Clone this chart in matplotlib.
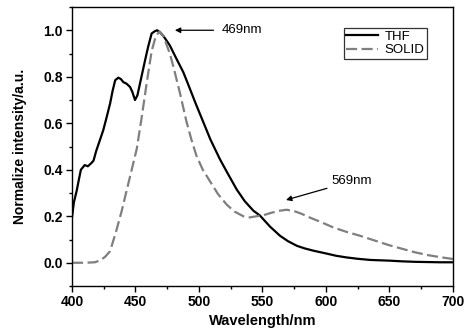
import matplotlib
matplotlib.use("Agg")
import matplotlib.pyplot as plt
import numpy as np

plt.rcParams['font.family'] = ['Liberation Sans', 'DejaVu Sans']

# Emission spectrum in THF solution
thf_wl = [400, 401.5, 403.7, 405.5, 407, 410, 412.5, 415.5, 417, 419, 421.5, 424.6, 427, 430, 432,
          434, 436.5, 438.5, 440.4, 443, 445.7, 447.5, 449.6, 451.5, 453.5, 455.5, 457.5, 460,
          462.7, 465, 467, 469.5, 472, 474.5, 477, 482, 487.6, 492, 497, 503, 509, 516.5, 522,
          529.7, 536, 542.8, 548, 556, 563.8, 570, 577, 583, 590, 600, 608, 616, 625, 635,
          650, 660, 670, 680, 690, 700]
thf_int = [0.195, 0.26, 0.31, 0.36, 0.40, 0.42, 0.415, 0.43, 0.44, 0.48, 0.52, 0.57, 0.62, 0.685, 0.74,
           0.785, 0.796, 0.79, 0.777, 0.77, 0.756, 0.735, 0.70, 0.72, 0.77, 0.82, 0.87, 0.93,
           0.986, 0.995, 1.0, 0.99, 0.975, 0.955, 0.935, 0.88, 0.82, 0.76, 0.69, 0.61, 0.53, 0.445, 0.39,
           0.315, 0.265, 0.224, 0.203, 0.155, 0.116, 0.093, 0.073, 0.062, 0.052, 0.04, 0.03, 0.023, 0.017, 0.012,
           0.009, 0.006, 0.004, 0.003, 0.002, 0.002]

# Emission spectrum of the solid film
solid_wl = [400, 410, 418, 422, 426, 430, 435, 439, 443, 447, 451, 455, 459, 462.7, 466, 469, 472,
            477, 480, 485, 490, 494, 498, 503, 508.7, 515, 521.8, 528, 534.9, 540, 545.4, 551, 557,
            563.8, 569, 575, 581, 587, 596, 605.7, 616, 626.8, 638.6, 650, 660, 670, 680, 690, 700]
solid_int = [0.0, 0.0, 0.002, 0.01, 0.025, 0.05, 0.14, 0.22, 0.31, 0.40, 0.49, 0.63, 0.78, 0.91, 0.975,
             0.995, 0.975, 0.90, 0.84, 0.73, 0.61, 0.53, 0.46, 0.40, 0.35, 0.295, 0.25, 0.22, 0.20, 0.195,
             0.20, 0.205, 0.215, 0.224, 0.228, 0.222, 0.21, 0.195, 0.175, 0.152, 0.133, 0.116, 0.095, 0.075,
             0.06, 0.045, 0.033, 0.024, 0.016]

fig = plt.figure(figsize=(4.74, 3.34), dpi=100)
ax = fig.add_axes([72/474, 1 - 286/334, (453 - 72)/474, (286 - 7)/334])

ax.plot(thf_wl, thf_int, color='black', lw=1.6, label='THF')
ax.plot(solid_wl, solid_int, color='#7f7f7f', lw=1.6, ls=(0, (5, 2)), label='SOLID')

ax.set_xlim(400, 700)
ax.set_ylim(-0.1, 1.1)
ax.set_xticks([400, 450, 500, 550, 600, 650, 700])
ax.set_yticks([0.0, 0.2, 0.4, 0.6, 0.8, 1.0])
ax.set_xticks(np.arange(425, 700, 50), minor=True)
ax.set_yticks(np.arange(-0.1, 1.1, 0.2), minor=True)
ax.tick_params(which='major', direction='out', length=4, width=1, labelsize=10, pad=2.5)
ax.tick_params(which='minor', direction='out', length=2.5, width=1)
for lab in ax.get_xticklabels() + ax.get_yticklabels():
    lab.set_fontweight('bold')
for sp in ax.spines.values():
    sp.set_linewidth(1.0)

ax.set_xlabel('Wavelength/nm', fontsize=10.5, fontweight='bold', labelpad=3.5)
ax.set_ylabel('Normalize intensity/a.u.', fontsize=10, fontweight='bold', labelpad=12)

leg = ax.legend(loc='upper right', fontsize=9.5, frameon=True, fancybox=False,
                edgecolor='black', borderpad=0.2, labelspacing=0.1, handlelength=2.4,
                handletextpad=0.5, borderaxespad=0,
                bbox_to_anchor=((427 - 72) / 381, (286 - 28) / 279),
                bbox_transform=ax.transAxes)
leg.get_frame().set_linewidth(0.9)

ax.annotate('469nm', xy=(481, 1.0), xytext=(518, 1.0), fontsize=9.5, va='center', ha='left',
            arrowprops=dict(arrowstyle='-|>', color='black', lw=0.9, mutation_scale=8,
                            shrinkA=4, shrinkB=0))
ax.annotate('569nm', xy=(568.5, 0.27), xytext=(604, 0.35), fontsize=9.5, va='center', ha='left',
            arrowprops=dict(arrowstyle='-|>', color='black', lw=0.9, mutation_scale=8,
                            shrinkA=1, shrinkB=0))

fig.savefig('out.png', dpi=100)
